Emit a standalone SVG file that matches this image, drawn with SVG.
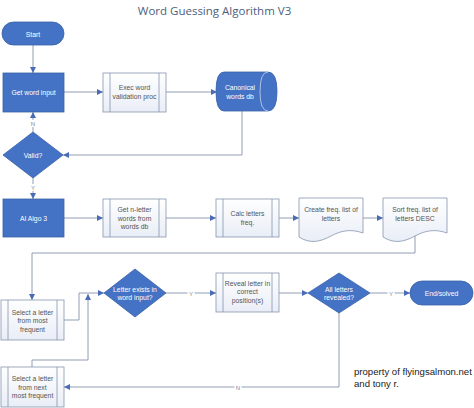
<svg xmlns="http://www.w3.org/2000/svg" width="474" height="408" viewBox="0 0 474 408">
<style>
.f{fill:#4472c4;stroke:#3a62a8;stroke-width:0.8}
.w{fill:url(#g);stroke:#8796b0;stroke-width:0.8}
.il{stroke:#8796b0;stroke-width:0.8;fill:none}
.c{fill:none;stroke:#8393ad;stroke-width:0.9}
.tw{font-family:"Liberation Sans",Arial,sans-serif;font-size:6.8px;fill:#ffffff;text-anchor:middle}
.td{font-family:"Liberation Sans",Arial,sans-serif;font-size:6.8px;fill:#555555;text-anchor:middle}
.lb{font-family:"Liberation Sans",Arial,sans-serif;font-size:6px;fill:#7a869a;text-anchor:middle}
</style>
<defs>
<linearGradient id="g" x1="0" y1="0" x2="0" y2="1">
<stop offset="0" stop-color="#ffffff"/>
<stop offset="1" stop-color="#e9edf6"/>
</linearGradient>
<marker id="a" viewBox="0 0 10 10" refX="10" refY="5" markerWidth="6" markerHeight="6" orient="auto" markerUnits="userSpaceOnUse">
<path d="M0,0 L10,5 L0,10 Z" fill="#4a6bb5"/>
</marker>
</defs>
<rect width="474" height="408" fill="#ffffff"/>
<text x="214.5" y="15" font-family="'Open Sans','Liberation Sans',sans-serif" font-size="11.5" fill="#4d6080" text-anchor="middle">Word Guessing Algorithm V3</text>

<g id="connectors">
<path class="c" d="M33,45 V73" marker-end="url(#a)"/>
<path class="c" d="M64,92 H103" marker-end="url(#a)"/>
<path class="c" d="M166,92 H217" marker-end="url(#a)"/>
<path class="c" d="M242,111 V155 H63" marker-end="url(#a)"/>
<path class="c" d="M33,132 V112" marker-end="url(#a)"/>
<path class="c" d="M33,178 V199" marker-end="url(#a)"/>
<path class="c" d="M64,218 H103" marker-end="url(#a)"/>
<path class="c" d="M166,218 H216" marker-end="url(#a)"/>
<path class="c" d="M279,218 H299" marker-end="url(#a)"/>
<path class="c" d="M363,218 H383" marker-end="url(#a)"/>
<path class="c" d="M415,233 V253 H32 V300" marker-end="url(#a)"/>
<path class="c" d="M64,320 H79 V293 H104" marker-end="url(#a)"/>
<path class="c" d="M32,367 V360 H88 V294" marker-end="url(#a)"/>
<path class="c" d="M166,293 H216" marker-end="url(#a)"/>
<path class="c" d="M279,293 H308" marker-end="url(#a)"/>
<path class="c" d="M370,293 H410" marker-end="url(#a)"/>
<path class="c" d="M339,313 V387 H64" marker-end="url(#a)"/>
<rect x="29.5" y="120" width="7" height="7" fill="#ffffff"/>
<text class="lb" x="33" y="126">N</text>
<rect x="29.5" y="184" width="7" height="7" fill="#ffffff"/>
<text class="lb" x="33" y="190">Y</text>
<rect x="187.5" y="289.5" width="7" height="7" fill="#ffffff"/>
<text class="lb" x="191" y="295.5">Y</text>
<rect x="387.5" y="289.5" width="7" height="7" fill="#ffffff"/>
<text class="lb" x="391" y="295.5">Y</text>
<rect x="234.5" y="383.5" width="7" height="7" fill="#ffffff"/>
<text class="lb" x="238" y="389.5">N</text>
</g>

<g id="start">
<rect class="f" x="2" y="22" width="62" height="23" rx="11.5"/>
<text class="tw" x="33" y="36.5">Start</text>
</g>
<g id="get-word-input">
<rect class="f" x="3" y="73" width="61" height="39"/>
<text class="tw" x="33.5" y="94.5">Get word input</text>
</g>
<g id="exec-word-validation">
<rect class="w" x="103" y="73" width="63" height="39"/>
<path class="il" d="M110,73 V112 M159,73 V112"/>
<text class="td" x="134.5" y="90">Exec word</text>
<text class="td" x="134.5" y="99">validation proc</text>
</g>
<g id="canonical-words-db">
<path class="f" d="M224,72 H268 Q277,72 277,91.5 Q277,111 268,111 H224 Q216,111 216,91.5 Q216,72 224,72 Z"/>
<path d="M268,72 Q260,72 260,91.5 Q260,111 268,111" fill="none" stroke="#c9d4ec" stroke-width="0.8"/>
<text class="tw" x="240" y="90">Canonical</text>
<text class="tw" x="240" y="99">words db</text>
</g>
<g id="valid">
<polygon class="f" points="33,132 63,155 33,178 3,155"/>
<text class="tw" x="33" y="157.5">Valid?</text>
</g>
<g id="ai-algo-3">
<rect class="f" x="3" y="199" width="61" height="38"/>
<text class="tw" x="33.5" y="220.5">AI Algo 3</text>
</g>
<g id="get-n-letter-words">
<rect class="w" x="103" y="199" width="63" height="38"/>
<path class="il" d="M110,199 V237 M159,199 V237"/>
<text class="td" x="134.5" y="212">Get n-letter</text>
<text class="td" x="134.5" y="220.5">words from</text>
<text class="td" x="134.5" y="229">words db</text>
</g>
<g id="calc-letters-freq">
<rect class="w" x="216" y="199" width="63" height="38"/>
<path class="il" d="M223,199 V237 M272,199 V237"/>
<text class="td" x="247.5" y="215.5">Calc letters</text>
<text class="td" x="247.5" y="225">freq.</text>
</g>
<g id="create-freq-list">
<path class="w" d="M299,198 H363 V233 C352,229 342,230 331,236 C320,242 310,244 299,237 Z"/>
<text class="td" x="331" y="211.5">Create freq. list of</text>
<text class="td" x="331" y="220.5">letters</text>
</g>
<g id="sort-freq-list">
<path class="w" d="M383,198 H447 V233 C436,229 426,230 415,236 C404,242 394,244 383,237 Z"/>
<text class="td" x="415" y="211.5">Sort freq. list of</text>
<text class="td" x="415" y="220.5">letters DESC</text>
</g>
<g id="select-most-frequent">
<rect class="w" x="1" y="300" width="63" height="40"/>
<path class="il" d="M8,300 V340 M57,300 V340"/>
<text class="td" x="32.5" y="314.5">Select a letter</text>
<text class="td" x="32.5" y="323">from most</text>
<text class="td" x="32.5" y="331.5">frequent</text>
</g>
<g id="letter-exists">
<polygon class="f" points="135,269 166,293 135,317 104,293"/>
<text class="tw" x="135" y="291.5">Letter exists in</text>
<text class="tw" x="135" y="300">word input?</text>
</g>
<g id="reveal-letter">
<rect class="w" x="216" y="273" width="63" height="39"/>
<path class="il" d="M223,273 V312 M272,273 V312"/>
<text class="td" x="247.5" y="285.5">Reveal letter in</text>
<text class="td" x="247.5" y="294">correct</text>
<text class="td" x="247.5" y="302.5">position(s)</text>
</g>
<g id="all-letters-revealed">
<polygon class="f" points="339,273 370,293 339,313 308,293"/>
<text class="tw" x="339" y="291.5">All letters</text>
<text class="tw" x="339" y="299.5">revealed?</text>
</g>
<g id="end-solved">
<rect class="f" x="410" y="281" width="63" height="24" rx="12"/>
<text class="tw" x="441.5" y="295.5">End/solved</text>
</g>
<g id="select-next-most-frequent">
<rect class="w" x="1" y="367" width="63" height="40"/>
<path class="il" d="M8,367 V407 M57,367 V407"/>
<text class="td" x="32.5" y="380.5">Select a letter</text>
<text class="td" x="32.5" y="389.5">from next</text>
<text class="td" x="32.5" y="398">most frequent</text>
</g>
<g id="note">
<text font-family="'Liberation Sans',Arial,sans-serif" font-size="9.6" fill="#222222" x="354" y="375">property of flyingsalmon.net</text>
<text font-family="'Liberation Sans',Arial,sans-serif" font-size="9.6" fill="#222222" x="354" y="387">and tony r.</text>
</g>
</svg>
